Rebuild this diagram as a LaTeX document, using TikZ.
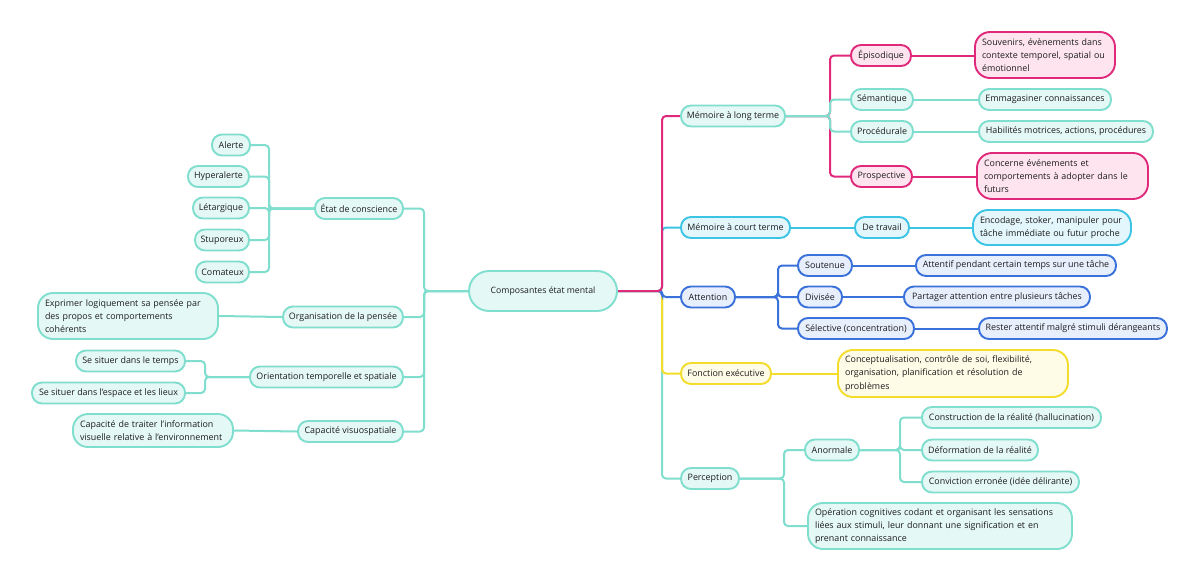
\documentclass[tikz,border=0pt]{standalone}
\usepackage{fontspec}
\setmainfont{Open Sans}
\usetikzlibrary{backgrounds}
\definecolor{tealc}{HTML}{80DECE}
\definecolor{tealf}{HTML}{E4F8F5}
\definecolor{pinkc}{HTML}{E0297B}
\definecolor{pinkf}{HTML}{FDE4EF}
\definecolor{cyanc}{HTML}{3CC4E4}
\definecolor{cyanf}{HTML}{E2F6FC}
\definecolor{bluec}{HTML}{3B71DA}
\definecolor{bluef}{HTML}{E7EEFC}
\definecolor{yelc}{HTML}{F3DD2A}
\definecolor{yelf}{HTML}{FEFBE6}
\definecolor{txt}{HTML}{1E1E1E}
\newcommand{\fs}{\fontsize{8.9}{13.3}\selectfont}
\newcommand{\fsroot}{\fontsize{8.7}{13.3}\selectfont}
\tikzset{
  box/.style={rounded corners=10pt, line width=1.9pt, minimum height=21pt, inner sep=0pt, font=\fs, text=txt, align=center},
  tb/.style={box, draw=tealc, fill=tealf},
  pb/.style={box, draw=pinkc, fill=pinkf},
  cb/.style={box, draw=cyanc, fill=cyanf},
  bb/.style={box, draw=bluec, fill=bluef},
  yb/.style={box, draw=yelc, fill=yelf},
  multi/.style={rounded corners=15pt, align=left, inner xsep=7pt},
  ln/.style={line width=2pt, rounded corners=4pt},
  tl/.style={ln, draw=tealc},
  pl/.style={ln, draw=pinkc},
  cl/.style={ln, draw=cyanc},
  bl/.style={ln, draw=bluec},
  yl/.style={ln, draw=yelc},
}
\begin{document}
\begin{tikzpicture}[x=1pt, y=-1pt]
\useasboundingbox (0,0) rectangle (1200,582);

% root
\node[tb, minimum width=148pt, minimum height=40pt, rounded corners=20pt, font=\fsroot] (root) at (543,291) {Composantes état mental};

% left side
\node[tb, minimum width=88pt] (etat) at (359,208.5) {État de conscience};
\node[tb, minimum width=38pt] (alerte) at (231,145) {Alerte};
\node[tb, minimum width=61pt] (hyper) at (218.5,176.5) {Hyperalerte};
\node[tb, minimum width=56pt] (letar) at (221,208) {Létargique};
\node[tb, minimum width=54pt] (stup) at (222,240) {Stuporeux};
\node[tb, minimum width=53pt] (coma) at (222.5,272) {Comateux};

\node[tb, minimum width=120pt] (orgp) at (343,317) {Organisation de la pensée};
\node[tb, multi, text width=166pt, minimum height=46pt] (expr) at (128,316) {Exprimer logiquement sa pensée par\\des propos et comportements\\cohérents};

\node[tb, minimum width=153pt] (orient) at (326.5,377) {Orientation temporelle et spatiale};
\node[tb, minimum width=109pt] (temps) at (130.5,361) {Se situer dans le temps};
\node[tb, minimum width=153pt] (espace) at (108.5,393) {Se situer dans l'espace et les lieux};

\node[tb, minimum width=105pt] (capvis) at (350.5,431.5) {Capacité visuospatiale};
\node[tb, multi, text width=146pt, minimum height=33pt] (captr) at (153,430.5) {Capacité de traiter l'information\\visuelle relative à l'environnement};

% right side
\node[tb, minimum width=104pt] (mlt) at (733,116) {Mémoire à long terme};
\node[pb, minimum width=60pt] (epi) at (881,55.5) {Épisodique};
\node[tb, minimum width=62pt] (sem) at (882,99.5) {Sémantique};
\node[tb, minimum width=62pt] (proc) at (882,131.5) {Procédurale};
\node[pb, minimum width=61pt] (prosp) at (881.5,176.5) {Prospective};
\node[pb, multi, text width=126pt, minimum height=46pt] (souv) at (1045,55) {Souvenirs, évènements dans\\contexte temporel, spatial ou\\émotionnel};
\node[tb, minimum width=132pt] (emma) at (1045,99.5) {Emmagasiner connaissances};
\node[tb, minimum width=174pt] (habi) at (1066,131.5) {Habilités motrices, actions, procédures};
\node[pb, multi, text width=157pt, minimum height=46pt] (conc) at (1062.5,176) {Concerne événements et\\comportements à adopter dans le\\futurs};

\node[cb, minimum width=109pt] (mct) at (735.5,227.5) {Mémoire à court terme};
\node[cb, minimum width=54pt] (detr) at (882,227.5) {De travail};
\node[cb, multi, text width=144pt, minimum height=35pt] (enco) at (1052,227.5) {Encodage, stoker, manipuler pour\\tâche immédiate ou futur proche};

\node[bb, minimum width=54pt] (att) at (708,297) {Attention};
\node[bb, minimum width=54pt] (sout) at (825,265.5) {Soutenue};
\node[bb, minimum width=44pt] (div) at (820,297) {Divisée};
\node[bb, minimum width=116pt] (sel) at (856,328.5) {Sélective (concentration)};
\node[bb, minimum width=200pt] (attp) at (1016,265.5) {Attentif pendant certain temps sur une tâche};
\node[bb, minimum width=186pt] (part) at (997,297) {Partager attention entre plusieurs tâches};
\node[bb, minimum width=188pt] (rest) at (1073,328.5) {Rester attentif malgré stimuli dérangeants};

\node[yb, minimum width=90pt] (fexe) at (726,373.5) {Fonction exécutive};
\node[yb, multi, text width=216pt, minimum height=47pt] (conc2) at (953,373.5) {Conceptualisation, contrôle de soi, flexibilité,\\organisation, planification et résolution de\\problèmes};

\node[tb, minimum width=58pt] (perc) at (710,478.5) {Perception};
\node[tb, minimum width=54pt] (anor) at (832,450) {Anormale};
\node[tb, multi, text width=250pt, minimum height=46pt] (oper) at (940,526) {Opération cognitives codant et organisant les sensations\\liées aux stimuli, leur donnant une signification et en\\prenant connaissance};
\node[tb, minimum width=179pt] (constr) at (1011.5,417.5) {Construction de la réalité (hallucination)};
\node[tb, minimum width=116pt] (defo) at (980,450) {Déformation de la réalité};
\node[tb, minimum width=157pt] (convi) at (1000.5,482) {Conviction erronée (idée délirante)};

% ---------- connectors ----------
\begin{scope}[on background layer]
\fill[white] (0,0) rectangle (1200,582);
% left trunk
\draw[tl] (root.west) -- (424,291) |- (etat.east);
\draw[tl] (root.west) -- (424,291) |- (orgp.east);
\draw[tl] (root.west) -- (424,291) |- (orient.east);
\draw[tl] (root.west) -- (424,291) |- (capvis.east);
\foreach \c in {alerte,hyper,letar,stup,coma}{
  \draw[tl] (etat.west) -- (269,208.5) |- (\c.east);
}
\draw[tl] (orgp.west) -- (expr.east);
\draw[tl] (orient.west) -- (205,377) |- (temps.east);
\draw[tl] (orient.west) -- (205,377) |- (espace.east);
\draw[tl] (capvis.west) -- (captr.east);

% right trunk (order matters for overlap)
\draw[tl] (root.east) -- (662,291) |- (perc.west);
\draw[yl] (root.east) -- (662,291) |- (fexe.west);
\draw[bl] (root.east) -- (662,291) |- (att.west);
\draw[cl] (root.east) -- (662,291) |- (mct.west);
\draw[pl] (root.east) -- (662,291) |- (mlt.west);

% long-term memory
\draw[pl] (mlt.east) -- (830,116) |- (epi.west);
\draw[pl] (mlt.east) -- (830,116) |- (prosp.west);
\draw[tl] (mlt.east) -- (830,116) |- (sem.west);
\draw[tl] (mlt.east) -- (830,116) |- (proc.west);
\draw[pl] (epi.east) -- (souv.west |- epi.east);
\draw[tl] (sem.east) -- (emma.west);
\draw[tl] (proc.east) -- (habi.west);
\draw[pl] (prosp.east) -- (conc.west |- prosp.east);

% short-term memory
\draw[cl] (mct.east) -- (detr.west);
\draw[cl] (detr.east) -- (enco.west);

% attention
\draw[bl] (att.east) -- (778,297) |- (sout.west);
\draw[bl] (att.east) -- (778,297) |- (div.west);
\draw[bl] (att.east) -- (778,297) |- (sel.west);
\draw[bl] (sout.east) -- (attp.west);
\draw[bl] (div.east) -- (part.west);
\draw[bl] (sel.east) -- (rest.west);

% executive
\draw[yl] (fexe.east) -- (conc2.west);

% perception
\draw[tl] (perc.east) -- (784,478.5) |- (anor.west);
\draw[tl] (perc.east) -- (784,478.5) |- (oper.west);
\draw[tl] (anor.east) -- (900,450) |- (constr.west);
\draw[tl] (anor.east) -- (900,450) |- (defo.west);
\draw[tl] (anor.east) -- (900,450) |- (convi.west);
\end{scope}
\end{tikzpicture}
\end{document}
